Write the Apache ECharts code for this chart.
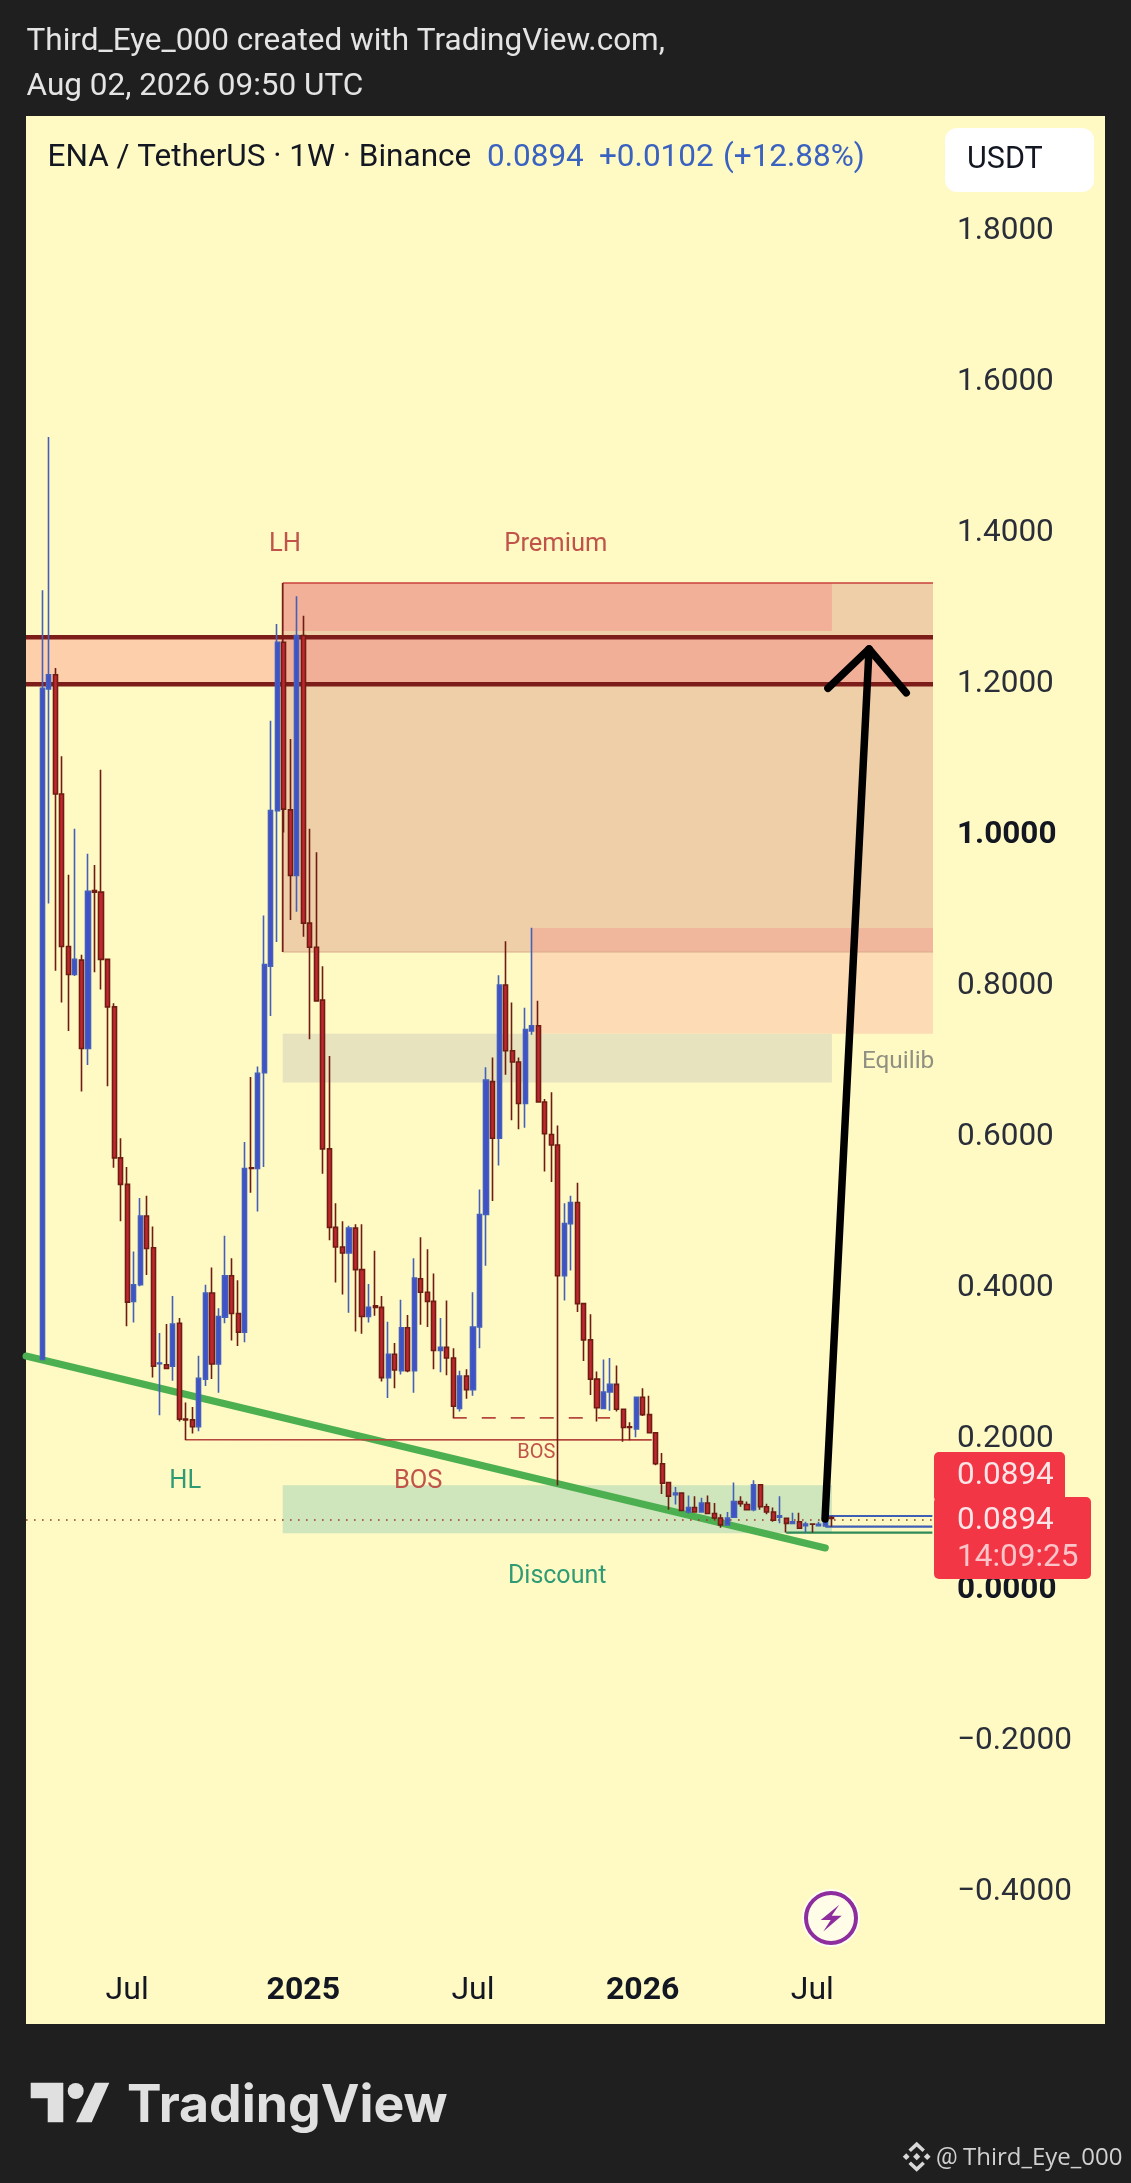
<!DOCTYPE html>
<html><head><meta charset="utf-8">
<script src="https://cdn.jsdelivr.net/npm/echarts@6/dist/echarts.min.js"></script>
<style>html,body{margin:0;padding:0;background:#1f1f1f}#c{width:1131px;height:2183px}</style>
</head><body><div id="c"></div>
<script>
// ---- Weekly candles ENA/USDT ----
const opens=[.302,1.190,1.209,1.051,.849,.812,.831,.714,.923,.921,.832,.769,.569,.534,.379,.401,.492,.450,.2965,.295,.293,.350,.223,.222,.213,.276,.390,.296,.358,.413,.363,.338,.556,.555,.682,.823,1.029,1.252,1.030,.943,1.261,.880,.848,.778,.581,.477,.451,.443,.476,.421,.359,.373,.371,.278,.309,.287,.344,.287,.409,.391,.379,.314,.318,.304,.237,.280,.262,.345,.494,.670,.595,.798,.711,.696,.641,.737,.744,.643,.600,.586,.413,.482,.510,.376,.328,.276,.237,.259,.269,.236,.213,.210,.252,.229,.205,.164,.139,.123,.125,.100,.106,.100,.112,.098,.092,.083,.093,.114,.110,.103,.136,.107,.100,.093,.0916,.085,.087,.082,.084,.082,.0815,.0925];
const closes=[1.191,1.209,1.051,.849,.812,.832,.714,.922,.921,.832,.769,.569,.534,.378,.401,.492,.449,.293,.2972,.290,.349,.223,.222,.213,.277,.390,.296,.359,.413,.363,.338,.555,.555,.681,.825,1.029,1.252,1.031,.943,1.261,.880,.848,.777,.581,.477,.451,.443,.476,.421,.359,.371,.371,.278,.309,.288,.344,.287,.410,.391,.379,.314,.318,.304,.240,.280,.262,.345,.494,.672,.595,.798,.711,.696,.641,.739,.744,.643,.601,.586,.413,.482,.510,.376,.328,.276,.238,.259,.269,.236,.212,.212,.252,.229,.205,.164,.138,.121,.125,.102,.106,.100,.112,.098,.092,.083,.092,.114,.111,.103,.136,.107,.100,.089,.095,.085,.087,.0784,.084,.0837,.0837,.0916,.0915];
const lows=[.302,.906,.817,.775,.737,.810,.657,.692,.815,.792,.664,.556,.485,.346,.351,.399,.414,.278,.228,.289,.274,.220,.195,.204,.207,.267,.276,.258,.350,.327,.320,.325,.523,.498,.557,.757,.855,1.000,.884,.895,.862,.726,.777,.548,.460,.404,.388,.364,.339,.336,.351,.360,.273,.251,.264,.282,.285,.258,.348,.345,.289,.285,.281,.225,.233,.250,.254,.317,.426,.512,.559,.679,.619,.607,.609,.732,.643,.551,.537,.135,.380,.420,.365,.300,.255,.220,.236,.234,.233,.193,.195,.199,.227,.205,.162,.124,.103,.110,.101,.098,.100,.099,.097,.090,.079,.083,.092,.107,.103,.101,.103,.097,.087,.085,.0727,.085,.0775,.0727,.073,.0815,.0810,.0806];
const highs=[1.321,1.524,1.218,1.101,.944,1.005,.838,.972,.957,1.083,.832,.774,.595,.557,.445,.516,.519,.478,.337,.349,.386,.357,.245,.239,.307,.401,.424,.370,.466,.436,.407,.590,.676,.690,.890,1.148,1.276,1.252,1.124,1.313,1.287,1.005,.974,.823,.704,.509,.485,.479,.481,.481,.402,.446,.386,.352,.324,.381,.361,.436,.464,.448,.416,.357,.380,.317,.287,.289,.391,.527,.689,.702,.811,.856,.775,.702,.768,.874,.777,.647,.656,.612,.509,.519,.536,.377,.362,.286,.302,.304,.294,.237,.219,.253,.264,.254,.205,.178,.139,.133,.126,.122,.121,.119,.122,.112,.097,.100,.139,.121,.114,.142,.136,.111,.106,.121,.0916,.099,.099,.087,.085,.087,.0947,.0947];

// ---- Axis text ----
const firstWeek='2024-03-18';
const totalWeeks=139;
const xTickDates=['2024-07-01','2025-01-06','2025-07-07','2026-01-05','2026-07-06'];
const xTickLabels=['Jul','2025','Jul','2026','Jul'];
const yBoldTicks=[1,0];

// ---- Drawings, in bar number and price ----
const premiumTan=[36.84,1.3305,136.5,.8417];
const premiumTop=[36.84,1.3305,121,1.267];
const bandLeft=[-2.5,1.2586,36.84,1.1963];
const bandRight=[36.84,1.2586,136.5,1.1963];
const overlapUpper=[74.9,.8735,136.5,.8417];
const lowerPremium=[74.9,.8417,136.5,.7336];
const equilibrium=[36.84,.7336,121,.6689];
const discount=[36.84,.1354,121,.0718];
const resistanceHigh=[[-2.5,1.2586],[136.5,1.2586]];
const resistanceLow=[[-2.5,1.1963],[136.5,1.1963]];
const premiumTopEdge=[[36.84,1.3305],[136.5,1.3305]];
const premiumLeftEdge=[[36.84,1.3305],[36.84,.8417]];
const premiumBottomEdge=[[36.84,.8417],[136.5,.8417]];
const trendLine=[[-2.5,.3066],[120,.0523]];
const bosLine=[[22,.1957],[93.4,.1955]];
const bosDashed=[[62.9,.2247],[87,.2247]];
const posHigh=[[120,.0947],[136.4,.0947]];
const posMid=[[120,.0805],[136.4,.0805]];
const posLow=[[114,.0726],[136.4,.0726]];
const lastPriceLine=[[-2.5,.0894],[136.4,.0894]];
const arrowShaft=[[119.95,.0907],[126.7,1.243]];
const arrowHead=[[120.4,1.191],[126.7,1.243],[132.4,1.185]];
const noteTexts=['LH','Premium','HL','BOS','BOS','Discount','Equilib'];
const noteBars=[37.2,78.7,21.9,57.6,75.7,78.9,125.6];
const notePrices=[1.385,1.385,.1437,.1437,.182,.018,.70];

// ---- Build ----
const categories=[];
{const t0=Date.parse(firstWeek+'T00:00:00Z');
 for(let k=0;k<totalWeeks;k++)categories.push(new Date(t0+k*7*864e5).toISOString().slice(0,10));}
const candleData=opens.map((o,k)=>[o,closes[k],lows[k],highs[k]]);
const padded=[null,null].map(()=>'-').concat(candleData);

const boxLayers=[
 {b:premiumTan,c:'#efcfa8'},{b:premiumTop,c:'#f2b099'},{b:bandLeft,c:'#fecfab'},{b:bandRight,c:'#f2af98'},
 {b:overlapUpper,c:'#f0b79c'},{b:lowerPremium,c:'#fddcb5'},{b:equilibrium,c:'#e6e3be'},{b:discount,c:'#cfe5bb'}];
const lineLayers=[
 {p:premiumBottomEdge,c:'#dca98c',w:1.2},{p:premiumTopEdge,c:'#c8403c',w:1.6},{p:premiumLeftEdge,c:'#7a1d1a',w:1.8},
 {p:resistanceHigh,c:'#7c1d1a',w:4.5},{p:resistanceLow,c:'#7c1d1a',w:4.5},
 {p:trendLine,c:'#4caf50',w:7,cap:'round'},
 {p:bosLine,c:'#b5473f',w:1.6},{p:bosDashed,c:'#b5473f',w:1.6,dash:[14,15]},
 {p:posLow,c:'#2e8b57',w:2.2},{p:posHigh,c:'#3f5fb5',w:2.2},{p:posMid,c:'#3f5fb5',w:2.2},
 {p:lastPriceLine,c:'#9a3b2a',w:1.6,dash:[1.6,6.4]}];
const arrowLayers=[{p:arrowShaft,c:'#000',w:7.5,cap:'round'},{p:arrowHead,c:'#000',w:7.5,cap:'round'}];
const noteColors=['#c0544a','#c0544a','#2e9b75','#c0544a','#c0544a','#2e9b75','#8f8f82'];
const noteSizes=[25.5,25.5,25.5,25.5,20,25,24.4];

function drawBoxes(params,api){
 const l=boxLayers[params.dataIndex],a=api.coord([l.b[0],l.b[1]]),b=api.coord([l.b[2],l.b[3]]);
 return {type:'rect',shape:{x:a[0],y:a[1],width:b[0]-a[0],height:b[1]-a[1]},style:{fill:l.c}};
}
function drawLines(layers){return function(params,api){
 const l=layers[params.dataIndex];
 return {type:'polyline',shape:{points:l.p.map(q=>api.coord(q))},
  style:{fill:null,stroke:l.c,lineWidth:l.w,lineCap:l.cap||'butt',lineJoin:'round',lineDash:l.dash||null}};
};}
function drawNotes(params,api){
 const k=params.dataIndex,a=api.coord([noteBars[k],notePrices[k]]);
 return {type:'text',x:a[0],y:a[1]+2.5,style:{text:noteTexts[k],fill:noteColors[k],fontFamily:'Roboto',fontSize:noteSizes[k],
  align:noteTexts[k]==='Equilib'?'left':'center',verticalAlign:'middle'}};
}
const slots=a=>a.map((_,k)=>[0,0,k]);
const F='Roboto';
const FS=31.5;
const txt=(text,x,y,size,fill,extra)=>({type:'text',x,y:y+2.5,z:100,style:Object.assign({text,fill,fontFamily:F,fontSize:size,verticalAlign:'middle'},extra||{})});
const poly=(pts,fill,z)=>({type:'polygon',z:z||100,shape:{points:pts},style:{fill}});
const pl=(pts,stroke,w)=>({type:'polyline',z:100,shape:{points:pts},style:{fill:null,stroke,lineWidth:w}});
const rr=(x,y,width,height,fill,r,z)=>({type:'rect',z:z===undefined?100:z,shape:{x,y,width,height,r:r||0},style:{fill}});
const dia=(cx,cy,r,fill)=>poly([[cx,cy-r],[cx+r,cy],[cx,cy+r],[cx-r,cy]],fill);
const ic=[916.7,2156.7];

const chart=echarts.init(document.getElementById('c'),null,{renderer:'canvas'});
chart.setOption({
 animation:false,backgroundColor:'#1f1f1f',
 grid:{left:26,width:907,top:77.5,height:1963},
 xAxis:[
  {type:'category',data:categories,boundaryGap:true,axisLine:{show:false},axisTick:{show:false},splitLine:{show:false},
   axisLabel:{inside:true,margin:34,hideOverlap:false,color:'#131722',fontFamily:F,fontSize:32,
    interval:(i,v)=>xTickDates.includes(v),
    formatter:v=>{const k=xTickDates.indexOf(v);if(k<0)return '';const t=xTickLabels[k];return /\d/.test(t)?'{b|'+t+'}':t;},
    rich:{b:{fontWeight:'bold',fontSize:32,fontFamily:F,color:'#131722'}}}},
  {type:'value',min:-2.5,max:136.5,show:false,splitLine:{show:false}}
 ],
 yAxis:{type:'value',position:'right',min:-0.6,max:2.0,interval:0.2,axisLine:{show:false},axisTick:{show:false},splitLine:{show:false},
  axisLabel:{margin:24,padding:[6,0,0,0],showMinLabel:false,showMaxLabel:false,color:'#2a2e39',fontFamily:F,fontSize:FS,
   formatter:v=>{const s=(v<-1e-9?'\u2212':'')+Math.abs(v).toFixed(4);return yBoldTicks.some(t=>Math.abs(t-v)<1e-6)?'{b|'+s+'}':s;},
   rich:{b:{fontWeight:'bold',fontSize:FS,fontFamily:F,color:'#131722'}}}},
 series:[
  {type:'custom',xAxisIndex:1,yAxisIndex:0,z:1,data:slots(boxLayers),renderItem:drawBoxes,silent:true},
  {type:'custom',xAxisIndex:1,yAxisIndex:0,z:2,data:slots(lineLayers),renderItem:drawLines(lineLayers),silent:true},
  {type:'candlestick',xAxisIndex:0,yAxisIndex:0,z:5,data:padded,barWidth:4.6,
   itemStyle:{color:'#3f50c8',color0:'#c0272f',borderColor:'#4460bb',borderColor0:'#6f1c12',borderWidth:1.6}},
  {type:'custom',xAxisIndex:1,yAxisIndex:0,z:6,data:slots(arrowLayers),renderItem:drawLines(arrowLayers),silent:true},
  {type:'custom',xAxisIndex:1,yAxisIndex:0,z:7,data:slots(noteTexts),renderItem:drawNotes,silent:true}
 ],
 graphic:[
  rr(26,116,1079,1908,'#fff9c4',0,-1),
  txt('Third_Eye_000 created with TradingView.com,',26.5,40,FS,'#e4e4e4'),
  txt('Aug 02, 2026 09:50 UTC',26.5,84.5,FS,'#e4e4e4'),
  txt('ENA / TetherUS \u00b7 1W \u00b7 Binance',47.5,155.5,FS,'#131722'),
  txt('0.0894',487,155.5,FS,'#3a62c0'),
  txt('+0.0102',599,155.5,FS,'#3a62c0'),
  txt('(+12.88%)',723,155.5,FS,'#3a62c0'),
  rr(945,128,149,64,'#ffffff',12),
  txt('USDT',967,158,FS-1,'#131722'),
  rr(934,1452,131,50,'#f23645',5,90),
  rr(934,1497,157,82,'#f23645',5,90),
  txt('0.0894',957,1474,FS,'#fde4e6'),
  txt('0.0894',957,1519,FS,'#fde4e6'),
  txt('14:09:25',957,1556,FS,'#fbc4c9'),
  {type:'circle',z:100,shape:{cx:831,cy:1918,r:29},style:{fill:'#fffef2'}},
  {type:'circle',z:100,shape:{cx:831,cy:1918,r:25},style:{fill:'#fffde8',stroke:'#8e2d9e',lineWidth:4}},
  poly([[839.3,1904.7],[820.7,1920],[830.7,1920],[823.3,1931.4],[841.7,1915.7],[831.7,1915.7]],'#8e2d9e'),
  poly([[30.7,2082.7],[63.3,2082.7],[63.3,2122.3],[47.7,2122.3],[47.7,2098.3],[30.7,2098.3]],'#e0e0e0'),
  {type:'circle',z:100,shape:{cx:75.7,cy:2091,r:8},style:{fill:'#e0e0e0'}},
  poly([[95,2082.7],[109.3,2082.7],[91.7,2122.3],[76,2122.3]],'#e0e0e0'),
  txt('TradingView',127,2104,51.8,'#e0e0e0',{fontFamily:'Inter',fontWeight:'bold'}),
  dia(ic[0],ic[1],3.6,'#d8d8d8'),dia(ic[0]-10.5,ic[1],3.4,'#d8d8d8'),dia(ic[0]+10.5,ic[1],3.4,'#d8d8d8'),
  pl([[ic[0]-7,ic[1]-6],[ic[0],ic[1]-12.5],[ic[0]+7,ic[1]-6]],'#d8d8d8',3.6),
  pl([[ic[0]-7,ic[1]+6],[ic[0],ic[1]+12.5],[ic[0]+7,ic[1]+6]],'#d8d8d8',3.6),
  txt('@',936,2155,24,'#d0d0d0'),
  txt('Third_Eye_000',963,2156,24,'#d0d0d0',{fontFamily:'Open Sans'})
 ]
});
</script></body></html>
